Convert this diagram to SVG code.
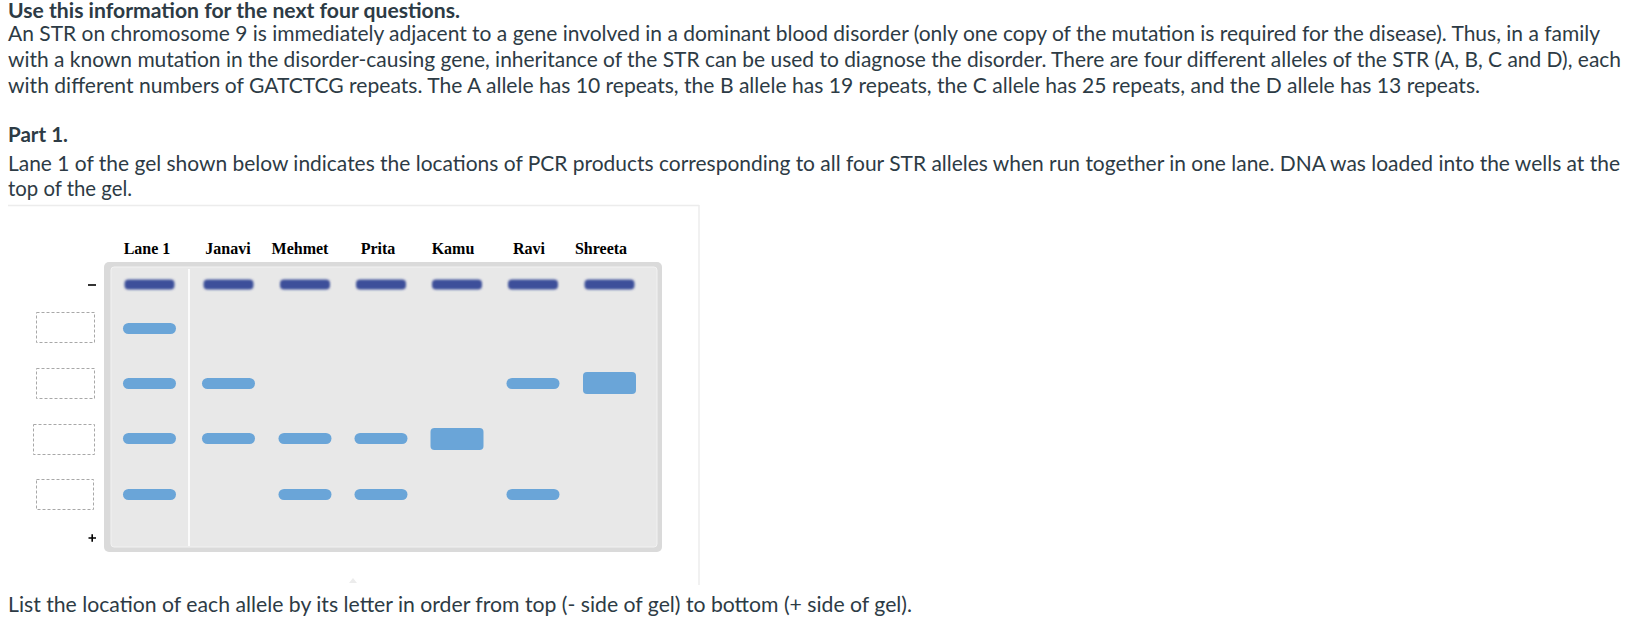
<svg xmlns="http://www.w3.org/2000/svg" width="1644" height="628" viewBox="0 0 1644 628">
<style>
.t{font-family:Lato,"Noto Sans","Liberation Sans",sans-serif;font-size:21px;fill:#2d3b45}
.b{font-weight:bold}
.lbl{font-family:"Liberation Serif","Times New Roman",serif;font-size:16px;font-weight:bold;fill:#000;text-anchor:middle}
.well{fill:#3e509a;filter:url(#blur)}
.band{fill:#6aa5d8}
.box{fill:#fff;stroke:#a8a8a8;stroke-width:1;stroke-dasharray:3 2}
</style>
<defs>
<filter id="blur" x="-20%" y="-60%" width="140%" height="220%"><feGaussianBlur stdDeviation="1.2"/></filter>
</defs>
<rect width="1644" height="628" fill="#fff"/>
<g id="text">
<text class="t b" x="8" y="18" textLength="452" lengthAdjust="spacingAndGlyphs">Use this information for the next four questions.</text>
<text class="t" x="8" y="41" textLength="1592" lengthAdjust="spacingAndGlyphs">An STR on chromosome 9 is immediately adjacent to a gene involved in a dominant blood disorder (only one copy of the mutation is required for the disease). Thus, in a family</text>
<text class="t" x="8" y="67" textLength="1613" lengthAdjust="spacingAndGlyphs">with a known mutation in the disorder-causing gene, inheritance of the STR can be used to diagnose the disorder. There are four different alleles of the STR (A, B, C and D), each</text>
<text class="t" x="8" y="93" textLength="1472" lengthAdjust="spacingAndGlyphs">with different numbers of GATCTCG repeats.  The A allele has 10 repeats, the B allele has 19 repeats, the C allele has 25 repeats, and the D allele has 13 repeats.</text>
<text class="t b" x="8" y="142" textLength="60" lengthAdjust="spacingAndGlyphs">Part 1.</text>
<text class="t" x="8" y="171" textLength="1612" lengthAdjust="spacingAndGlyphs">Lane 1 of the gel shown below indicates the locations of PCR products corresponding to all four STR alleles when run together in one lane. DNA was loaded into the wells at the</text>
<text class="t" x="8" y="196" textLength="124" lengthAdjust="spacingAndGlyphs">top of the gel.</text>
<text class="t" x="8" y="612" textLength="904" lengthAdjust="spacingAndGlyphs">List the location of each allele by its letter in order from top (- side of gel) to bottom (+ side of gel).</text>
</g>
<g id="panel">
<line x1="8" y1="205.5" x2="699" y2="205.5" stroke="#ececec" stroke-width="1.5"/>
<line x1="699" y1="205" x2="699" y2="585" stroke="#ececec" stroke-width="1.5"/>
<polygon points="349,583 353,578 357,583" fill="#ececec"/>
</g>
<g id="gel">
<rect x="104" y="262" width="558" height="290" rx="5" fill="#dadada"/>
<rect x="111" y="267" width="546" height="280" rx="3" fill="#e8e8e8" stroke="#f2f2f2" stroke-width="1"/>
<line x1="189" y1="269" x2="189" y2="546" stroke="#ffffff" stroke-width="1.6"/>
</g>
<g id="labels">
<text class="lbl" x="147" y="254">Lane 1</text>
<text class="lbl" x="228" y="254">Janavi</text>
<text class="lbl" x="300" y="254">Mehmet</text>
<text class="lbl" x="378" y="254">Prita</text>
<text class="lbl" x="453" y="254">Kamu</text>
<text class="lbl" x="529" y="254">Ravi</text>
<text class="lbl" x="601" y="254">Shreeta</text>
</g>
<g id="poles">
<line x1="88" y1="285" x2="96" y2="285" stroke="#000" stroke-width="1.6"/>
<path d="M88.5 538 H96 M92.2 534.3 V541.7" stroke="#000" stroke-width="1.6" fill="none"/>
</g>
<g id="answer-boxes">
<rect class="box" x="36.5" y="312.5" width="58" height="30"/>
<rect class="box" x="36.5" y="368.5" width="58" height="30"/>
<rect class="box" x="33.5" y="424.5" width="61" height="30"/>
<rect class="box" x="36.5" y="479.5" width="57" height="30"/>
</g>
<g id="wells">
<rect class="well" x="124.5" y="279.5" width="50" height="10" rx="4"/>
<rect class="well" x="203.5" y="279.5" width="50" height="10" rx="4"/>
<rect class="well" x="280" y="279.5" width="50" height="10" rx="4"/>
<rect class="well" x="356" y="279.5" width="50" height="10" rx="4"/>
<rect class="well" x="432" y="279.5" width="50" height="10" rx="4"/>
<rect class="well" x="508" y="279.5" width="50" height="10" rx="4"/>
<rect class="well" x="584.5" y="279.5" width="50" height="10" rx="4"/>
</g>
<g id="bands">
<rect class="band" x="123" y="323" width="53" height="11" rx="5.5"/>
<rect class="band" x="123" y="378" width="53" height="11" rx="5.5"/>
<rect class="band" x="123" y="433" width="53" height="11" rx="5.5"/>
<rect class="band" x="123" y="489" width="53" height="11" rx="5.5"/>
<rect class="band" x="202" y="378" width="53" height="11" rx="5.5"/>
<rect class="band" x="202" y="433" width="53" height="11" rx="5.5"/>
<rect class="band" x="278.5" y="433" width="53" height="11" rx="5.5"/>
<rect class="band" x="278.5" y="489" width="53" height="11" rx="5.5"/>
<rect class="band" x="354.5" y="433" width="53" height="11" rx="5.5"/>
<rect class="band" x="354.5" y="489" width="53" height="11" rx="5.5"/>
<rect class="band" x="430.5" y="428" width="53" height="22" rx="4"/>
<rect class="band" x="506.5" y="378" width="53" height="11" rx="5.5"/>
<rect class="band" x="506.5" y="489" width="53" height="11" rx="5.5"/>
<rect class="band" x="583" y="372" width="53" height="22" rx="4"/>
</g>
</svg>
